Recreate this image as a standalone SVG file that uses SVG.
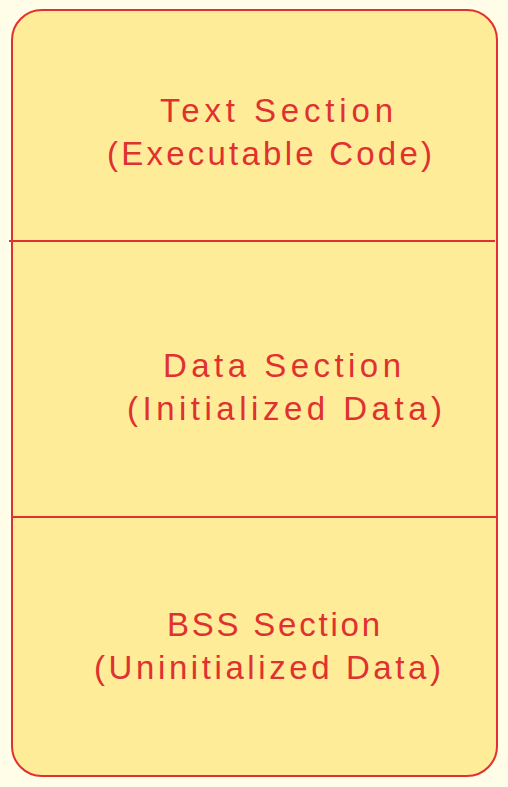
<svg xmlns="http://www.w3.org/2000/svg" width="508" height="787" viewBox="0 0 508 787">
<style>
.t{font-family:"Liberation Sans",Arial,sans-serif;font-size:33px;fill:#e03131;lengthAdjust:spacing}
.ln{stroke:#e03131;stroke-width:2;fill:none}
</style>
<rect x="0" y="0" width="508" height="787" fill="#fffce8"/>
<g id="memory">
<rect x="12" y="10" width="485" height="766" rx="30" ry="30" fill="#ffec99" stroke="#e03131" stroke-width="2"/>
</g>
<g id="connectors">
<line class="ln" x1="9" y1="241" x2="495" y2="241"/>
<line class="ln" x1="11" y1="517" x2="496" y2="517"/>
</g>
<g id="text-section">
<text class="t" x="160" y="122" textLength="233" lengthAdjust="spacing">Text Section</text>
<text class="t" x="107" y="165" textLength="325" lengthAdjust="spacing">(Executable Code)</text>
</g>
<g id="data-section">
<text class="t" x="163" y="377" textLength="238" lengthAdjust="spacing">Data Section</text>
<text class="t" x="127" y="420" textLength="315" lengthAdjust="spacing">(Initialized Data)</text>
</g>
<g id="bss-section">
<text class="t" x="167" y="636" textLength="213" lengthAdjust="spacing">BSS Section</text>
<text class="t" x="94" y="679" textLength="347" lengthAdjust="spacing">(Uninitialized Data)</text>
</g>
</svg>
